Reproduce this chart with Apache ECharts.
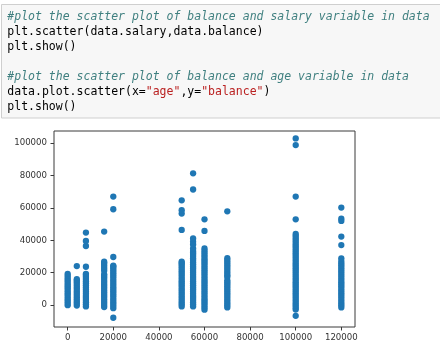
<!DOCTYPE html>
<html>
<head>
<meta charset="utf-8">
<script src="https://cdn.jsdelivr.net/npm/echarts@6/dist/echarts.min.js"></script>
<style>
html,body{margin:0;padding:0;background:#fff;}
#chart{width:440px;height:351px;}
</style>
</head>
<body>
<div id="chart"></div>
<script>
// ---- data ----
const salaries = [0, 4000, 8000, 16000, 20000, 50000, 55000, 60000, 70000, 100000, 120000];

const balanceAt0 = [0, 1300, 2600, 3800, 5100, 6500, 7700, 9000, 10400, 11600, 12900, 14300, 15500, 16800, 18100, 19300];
const balanceAt4000 = [-300, 1000, 2300, 3600, 4900, 6200, 7500, 8800, 10100, 11400, 12700, 14000, 15100, 16000, 24100];
const balanceAt8000 = [-800, 500, 1800, 3100, 4400, 5700, 7000, 8300, 9600, 10900, 12200, 13500, 14800, 16100, 17400, 18600, 19300, 23700, 36500, 39600, 44800];
const balanceAt16000 = [-1200, 100, 1400, 2700, 4000, 5300, 6600, 7900, 9200, 10500, 11800, 13100, 14400, 15700, 17000, 18200, 19000, 21200, 22400, 23700, 25000, 26100, 26800, 45400];
const balanceAt20000 = [-7800, -1900, -600, 700, 2000, 3300, 4600, 5900, 7200, 8500, 9800, 11100, 12400, 13700, 15000, 16300, 17600, 18900, 20200, 21500, 22800, 23800, 24400, 29700, 59200, 67000];
const balanceAt50000 = [-800, 500, 1800, 3100, 4400, 5700, 7000, 8300, 9600, 10900, 12200, 13500, 14800, 16100, 17400, 18700, 20000, 21300, 22600, 23900, 25100, 26000, 26800, 46400, 56500, 58600, 64700];
const balanceAt55000 = [-800, 500, 1800, 3100, 4400, 5700, 7000, 8300, 9600, 10900, 12200, 13500, 14800, 16100, 17400, 18700, 20000, 21300, 22600, 23900, 25200, 26500, 27800, 29000, 30300, 31500, 32400, 33400, 35000, 37500, 39200, 41200, 71400, 81400];
const balanceAt60000 = [-2800, -1500, -200, 1100, 2400, 3700, 5000, 6300, 7600, 8900, 10200, 11500, 12800, 14100, 15400, 16700, 18000, 19300, 20600, 21900, 23200, 24500, 25800, 27100, 28400, 29700, 31000, 32300, 33600, 35000, 45800, 53000];
const balanceAt70000 = [-1400, -100, 1200, 2500, 3800, 5100, 6400, 7700, 9000, 10300, 11600, 12900, 14200, 15300, 17400, 18500, 19800, 21100, 22400, 23700, 25000, 26300, 27600, 29000, 57900];
const balanceAt100000 = [-6600, -2700, -1400, -100, 1200, 2500, 3800, 5100, 6400, 7700, 9000, 10300, 11600, 12900, 14200, 15500, 16800, 18100, 19400, 20700, 22000, 23300, 24600, 25900, 27200, 28500, 29800, 31100, 32400, 33700, 35000, 36300, 37600, 38900, 40200, 41500, 42800, 43900, 53000, 67000, 98800, 102900];
const balanceAt120000 = [-1400, -100, 1200, 2500, 3800, 5100, 6400, 7700, 9000, 10300, 11600, 12900, 14200, 15500, 16800, 18100, 19400, 20700, 22000, 23300, 24600, 25900, 27200, 28900, 37100, 42300, 52000, 53400, 60200];

const balanceColumns = [balanceAt0, balanceAt4000, balanceAt8000, balanceAt16000, balanceAt20000, balanceAt50000, balanceAt55000, balanceAt60000, balanceAt70000, balanceAt100000, balanceAt120000];

const xTicks = [0, 20000, 40000, 60000, 80000, 100000, 120000];
const yTicks = [0, 20000, 40000, 60000, 80000, 100000];

const codeLines = [
  [['c', '#plot the scatter plot of balance and salary variable in data']],
  [['n', 'plt.scatter(data.salary,data.balance)']],
  [['n', 'plt.show()']],
  [],
  [['c', '#plot the scatter plot of balance and age variable in data']],
  [['n', 'data.plot.scatter(x='], ['s', '"age"'], ['n', ',y='], ['s', '"balance"'], ['n', ')']],
  [['n', 'plt.show()']]
];

// ---- build ----
const points = [];
salaries.forEach((s, i) => balanceColumns[i].forEach(b => points.push([s, b])));

const mono = 'DejaVu Sans Mono';
const rich = {
  c: { fontFamily: mono, fontSize: 11.5, fontStyle: 'italic', fill: '#408080', color: '#408080' },
  n: { fontFamily: mono, fontSize: 11.5, fill: '#000', color: '#000' },
  s: { fontFamily: mono, fontSize: 11.5, fill: '#BA2121', color: '#BA2121' }
};

const graphics = [{
  type: 'rect',
  shape: { x: 1.5, y: 4.5, width: 460, height: 113.5 },
  style: { fill: '#f7f7f7', stroke: '#cfcfcf', lineWidth: 1 },
  z: 0
}];
codeLines.forEach((segs, i) => {
  if (!segs.length) return;
  graphics.push({
    type: 'text',
    x: 7.3,
    y: 16.7 + i * 15.1,
    z: 1,
    style: {
      text: segs.map(([k, t]) => '{' + k + '|' + t + '}').join(''),
      rich: rich,
      verticalAlign: 'middle',
      align: 'left'
    }
  });
});

const labelStyle = { color: '#333', fontFamily: 'DejaVu Sans', fontSize: 8.6, formatter: v => String(v) };

const option = {
  animation: false,
  backgroundColor: '#fff',
  graphic: graphics,
  grid: { left: 54, top: 131, width: 301, height: 196, show: true, borderColor: '#3a3a3a', borderWidth: 1, backgroundColor: 'transparent' },
  xAxis: {
    type: 'value', min: -6000, max: 126000,
    axisLine: { show: false, onZero: false },
    splitLine: { show: false },
    axisTick: { show: true, length: 3.5, lineStyle: { color: '#3a3a3a' }, customValues: xTicks },
    axisLabel: Object.assign({ margin: 6, customValues: xTicks, showMinLabel: true, showMaxLabel: true }, labelStyle)
  },
  yAxis: {
    type: 'value', min: -13500, max: 107500,
    axisLine: { show: false, onZero: false },
    splitLine: { show: false },
    axisTick: { show: true, length: 3.5, lineStyle: { color: '#3a3a3a' }, customValues: yTicks },
    axisLabel: Object.assign({ margin: 7, customValues: yTicks }, labelStyle)
  },
  series: [{
    type: 'scatter',
    data: points,
    symbol: 'circle',
    symbolSize: 6.3,
    itemStyle: { color: '#1f77b4', opacity: 1 },
    clip: false
  }]
};

const chart = echarts.init(document.getElementById('chart'), null, { renderer: 'canvas' });
chart.setOption(option);
</script>
</body>
</html>
